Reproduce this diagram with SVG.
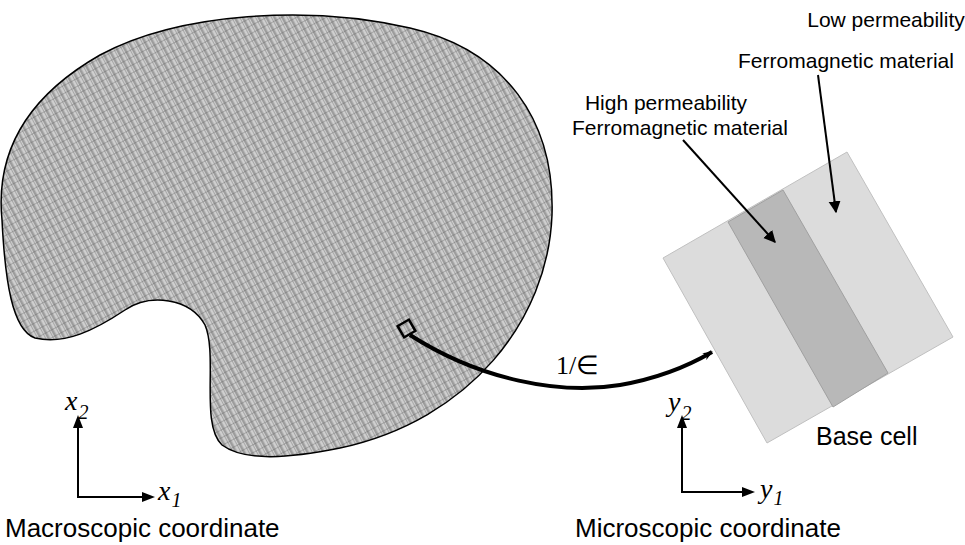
<svg xmlns="http://www.w3.org/2000/svg" width="965" height="545" viewBox="0 0 965 545">
<style>
.t{font-family:"Liberation Sans",Arial,sans-serif;font-size:21px;fill:#000}
.m{font-family:"Liberation Serif","Times New Roman",serif;font-style:italic;font-size:28px;fill:#000}
.ln{stroke:#000;stroke-width:2;fill:none}
</style>
<defs>
<pattern id="grid" width="7" height="7" patternUnits="userSpaceOnUse" patternTransform="rotate(-28)">
<rect width="7" height="7" fill="#cfcfcf"/>
<rect x="2" width="2.5" height="7" fill="#9c9c9c"/>
<path d="M0 0H7M0 0V7" stroke="#5a5a5a" stroke-width="0.7"/>
</pattern>
<marker id="ah2" viewBox="0 0 10 10" refX="9" refY="5" markerWidth="12" markerHeight="14" orient="auto" markerUnits="userSpaceOnUse"><path d="M0 0L10 5L0 10z"/></marker>
<marker id="ah3" viewBox="0 0 10 10" refX="9" refY="5" markerWidth="10" markerHeight="10" orient="auto" markerUnits="userSpaceOnUse"><path d="M0 1L10 5L0 9L3 5z"/></marker>
</defs>
<g id="domain">
<path d="M2 220 C-5 150 30 95 100 55 C180 12 310 5 410 28 C505 50 555 120 552 215 C548 320 470 420 340 448 C290 458 245 462 222 445 C200 425 218 355 205 325 C190 298 150 293 125 310 C95 330 65 345 35 338 C12 330 5 280 2 220 Z" fill="url(#grid)" stroke="#000" stroke-width="1.5"/>
<rect x="400" y="322" width="13" height="13" fill="none" stroke="#000" stroke-width="2.5" transform="rotate(-30 406.5 328.5)"/>
</g>
<g id="basecell">
<polygon points="663,258 847,152 953,337 767,443" fill="#dcdcdc" stroke="#c0c0c0" stroke-width="1"/>
<polygon points="728,222 783,190 888,373 833,407" fill="#b8b8b8" stroke="#a0a0a0" stroke-width="1"/>
<text class="t" x="816" y="445" style="font-size:25px">Base cell</text>
</g>
<g id="labels">
<text class="t" x="886" y="27" text-anchor="middle">Low permeability</text>
<text class="t" x="846" y="68" text-anchor="middle">Ferromagnetic material</text>
<text class="t" x="666" y="110" text-anchor="middle">High permeability</text>
<text class="t" x="680" y="135" text-anchor="middle">Ferromagnetic material</text>
<text x="556" y="374" style="font-family:'Liberation Serif',serif;font-size:26px">1/∈</text>
</g>
<g id="connectors">
<path d="M410 335 C480 380 560 395 620 385 C660 378 690 365 712 352" stroke="#000" stroke-width="4" fill="none" marker-end="url(#ah3)"/>
<line x1="683" y1="140" x2="775" y2="242" stroke="#000" stroke-width="2" marker-end="url(#ah2)"/>
<line x1="818" y1="75" x2="836" y2="212" stroke="#000" stroke-width="2" marker-end="url(#ah2)"/>
<polyline class="ln" points="78,420 78,497 148,497"/>
<path d="M78 415 L73 428 L83 428Z"/>
<path d="M155 497 L142 492 L142 502Z"/>
<polyline class="ln" points="682,420 682,492 748,492"/>
<path d="M682 415 L677 428 L687 428Z"/>
<path d="M755 492 L742 487 L742 497Z"/>
</g>
<g id="axes">
<text class="m" x="65" y="410">x<tspan dx="1" dy="9" font-size="20">2</tspan></text>
<text class="m" x="158" y="500">x<tspan dx="1" dy="7" font-size="20">1</tspan></text>
<text class="t" x="5" y="537" style="font-size:26px">Macroscopic coordinate</text>
<text class="m" x="668" y="411">y<tspan dx="1" dy="9" font-size="20">2</tspan></text>
<text class="m" x="760" y="498">y<tspan dx="1" dy="7" font-size="20">1</tspan></text>
<text class="t" x="575" y="537" style="font-size:26px">Microscopic coordinate</text>
</g>
</svg>
